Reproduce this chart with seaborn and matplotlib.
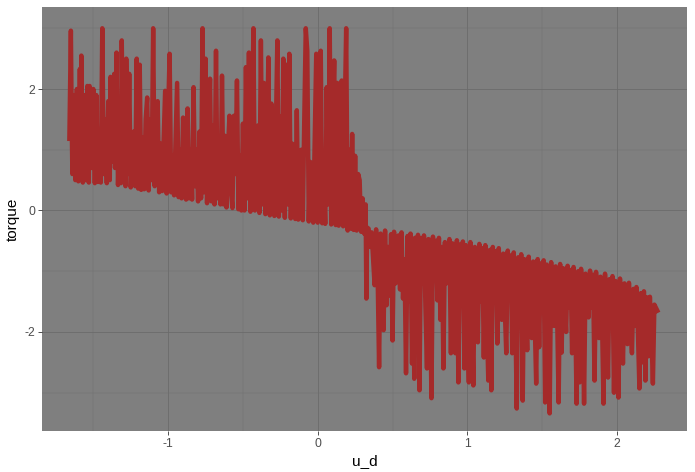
import numpy as np
import pandas as pd
import seaborn as sns
import matplotlib.pyplot as plt
from matplotlib.ticker import MultipleLocator

# u_d values (x), left part (positive torque spikes)
u_left = [-1.66, -1.65, -1.645, -1.64, -1.63, -1.62, -1.61, -1.60, -1.59, -1.585, -1.58, -1.57, -1.56, -1.55,
          -1.54, -1.53, -1.525, -1.51, -1.50, -1.49, -1.48, -1.47, -1.46, -1.45, -1.44, -1.43, -1.42, -1.41,
          -1.40, -1.39, -1.385, -1.375, -1.36, -1.355, -1.345, -1.335, -1.325, -1.315, -1.31, -1.30, -1.29,
          -1.285, -1.28, -1.27, -1.26, -1.25, -1.24, -1.23, -1.22, -1.21, -1.20, -1.19, -1.18, -1.17, -1.16,
          -1.15, -1.14, -1.13, -1.12, -1.11, -1.10, -1.09, -1.08, -1.07, -1.06, -1.05, -1.04, -1.02, -1.01,
          -1.00, -0.99, -0.98, -0.97, -0.96, -0.95, -0.94, -0.93, -0.92, -0.91, -0.90, -0.89, -0.88, -0.87,
          -0.86, -0.85, -0.84, -0.83, -0.82, -0.81, -0.80, -0.79, -0.78, -0.77, -0.76, -0.75, -0.74, -0.73,
          -0.72, -0.71, -0.70, -0.69, -0.68, -0.67, -0.66, -0.65, -0.64, -0.63, -0.62, -0.61, -0.60, -0.59,
          -0.58, -0.57, -0.56, -0.55, -0.54, -0.53, -0.52, -0.51, -0.50, -0.49, -0.48, -0.47, -0.46, -0.45,
          -0.44, -0.43, -0.42, -0.41, -0.40, -0.39, -0.38, -0.37, -0.36, -0.35, -0.34, -0.33, -0.32, -0.31,
          -0.30, -0.29, -0.28, -0.27, -0.26, -0.25, -0.24, -0.23, -0.22, -0.21, -0.20, -0.19, -0.18, -0.17,
          -0.16, -0.15, -0.14, -0.13, -0.12, -0.11, -0.10, -0.09, -0.08, -0.07, -0.06, -0.05, -0.04, -0.03,
          -0.02, -0.01, 0.00, 0.01, 0.02, 0.03, 0.04, 0.05, 0.06, 0.07, 0.08, 0.09, 0.10, 0.11, 0.12, 0.13,
          0.14, 0.15, 0.16, 0.17, 0.18, 0.19, 0.20, 0.21, 0.22, 0.23, 0.24, 0.25, 0.26, 0.27, 0.28, 0.29,
          0.30, 0.31, 0.32, 0.325, 0.33]
torque_left = [1.18, 2.96, 1.6, 0.6, 1.9, 0.5, 2.0, 0.48, 2.33, 1.2, 2.55, 0.46, 1.9, 0.5,
               2.05, 0.46, 2.05, 0.7, 2.0, 0.45, 1.9, 0.47, 1.3, 0.46, 3.0, 0.6, 1.5, 0.45,
               1.8, 0.5, 2.2, 0.8, 2.25, 0.7, 2.6, 0.42, 1.4, 0.45, 2.8, 0.5, 1.3,
               0.4, 2.5, 0.6, 2.25, 0.38, 1.0, 1.3, 0.4, 2.5, 0.36, 2.4, 0.34, 1.2, 0.35,
               1.5, 1.86, 0.33, 1.5, 0.5, 3.0, 0.4, 1.4, 1.8, 0.3, 1.1, 0.32, 1.97, 0.28,
               1.6, 2.58, 0.3, 0.9, 0.25, 1.2, 2.1, 0.22, 1.0, 0.2, 1.53, 0.7, 0.18, 1.68,
               0.2, 1.0, 0.18, 2.03, 0.4, 1.0, 0.15, 1.3, 0.2, 3.0, 0.3, 2.5, 0.12, 1.2,
               2.17, 0.15, 1.4, 0.1, 2.63, 0.2, 1.0, 0.1, 2.22, 0.1, 1.23, 0.05, 1.0, 1.56,
               0.3, 0.04, 1.56, 0.6, 2.14, 0.02, 0.9, 0.0, 1.43, 0.0, 2.36, 0.2, 2.6, -0.02,
               1.2, 3.0, 0.0, 0.8, 1.4, -0.04, 2.8, 0.1, 2.1, -0.06, 1.0, 2.52, -0.08, 1.76,
               0.2, -0.09, 1.3, 2.8, -0.1, 1.55, 0.0, 2.5, -0.12, 2.4, 0.1, 2.58, -0.13, 1.1,
               0.0, -0.14, 1.65, -0.15, 0.6, 1.0, -0.16, 1.5, 3.0, 2.63, -0.18, 0.8, 0.16, -0.2,
               1.2, 2.58, -0.2, 1.0, 2.63, -0.21, 0.5, -0.22, 2.03, 0.1, 3.0, -0.23, 1.5, 2.47, -0.24, 2.1,
               -0.25, 1.0, 2.14, -0.26, 1.5, 3.0, -0.33, 1.0, -0.3, 1.26, -0.32, 0.9, -0.33, 0.6, 0.5, -0.35,
               0.2, -0.38, 0.1, -1.45, -0.28]

# right part (negative torque spikes)
u_right = [0.34, 0.35, 0.36, 0.37, 0.38, 0.39, 0.40, 0.41, 0.42, 0.43, 0.44, 0.45, 0.46, 0.47, 0.48,
           0.49, 0.50, 0.51, 0.52, 0.53, 0.54, 0.55, 0.56, 0.57, 0.58, 0.59, 0.60, 0.61, 0.62, 0.63,
           0.64, 0.645, 0.65, 0.66, 0.67, 0.68, 0.69, 0.70, 0.71, 0.72, 0.73, 0.74, 0.75, 0.76, 0.77,
           0.78, 0.79, 0.80, 0.81, 0.82, 0.83, 0.84, 0.85, 0.86, 0.87, 0.88, 0.89, 0.90, 0.91, 0.92,
           0.93, 0.94, 0.95, 0.96, 0.97, 0.98, 0.99, 1.00, 1.01, 1.02, 1.03, 1.04, 1.05, 1.06, 1.07,
           1.08, 1.09, 1.10, 1.11, 1.12, 1.13, 1.14, 1.15, 1.16, 1.17, 1.18, 1.19, 1.20, 1.21, 1.22,
           1.23, 1.24, 1.25, 1.26, 1.27, 1.28, 1.29, 1.30, 1.31, 1.32, 1.33, 1.34, 1.35, 1.36, 1.37,
           1.38, 1.39, 1.40, 1.41, 1.42, 1.43, 1.44, 1.45, 1.46, 1.47, 1.48, 1.49, 1.50, 1.51, 1.52,
           1.53, 1.54, 1.55, 1.56, 1.57, 1.58, 1.59, 1.60, 1.61, 1.62, 1.63, 1.64, 1.65, 1.66, 1.67,
           1.68, 1.69, 1.70, 1.71, 1.72, 1.73, 1.74, 1.75, 1.76, 1.77, 1.78, 1.79, 1.80, 1.81, 1.82,
           1.83, 1.84, 1.85, 1.86, 1.87, 1.88, 1.89, 1.90, 1.91, 1.92, 1.93, 1.94, 1.95, 1.96, 1.97,
           1.98, 1.99, 2.00, 2.01, 2.02, 2.03, 2.04, 2.05, 2.06, 2.07, 2.08, 2.09, 2.10, 2.11, 2.12,
           2.13, 2.14, 2.15, 2.16, 2.17, 2.18, 2.19, 2.20, 2.21, 2.22, 2.23, 2.24, 2.25, 2.26, 2.27]
torque_right = [-0.3, -0.6, -0.36, -0.8, -1.23, -0.31, -1.0, -2.58, -0.38, -1.2, -1.97, -0.33, -1.56, -0.6, -1.4,
                -0.39, -2.14, -0.35, -1.2, -1.0, -0.41, -1.3, -0.36, -1.45, -0.8, -2.68, -0.42, -1.5, -0.38, -2.52,
                -1.0, -2.77, -0.45, -1.4, -0.4, -2.96, -0.46, -1.2, -0.41, -1.6, -2.6, -0.47, -1.3, -3.09, -0.43,
                -1.0, -0.5, -1.48, -0.45, -1.8, -0.6, -2.6, -0.52, -1.2, -1.0, -0.47, -2.35, -0.54, -1.5, -2.35,
                -0.49, -2.83, -0.56, -1.4, -0.51, -2.6, -0.57, -1.8, -2.83, -0.52, -1.6, -2.88, -0.6, -1.3, -2.17,
                -0.55, -1.5, -0.62, -2.42, -0.57, -1.8, -2.8, -0.65, -2.96, -0.6, -1.5, -0.67, -2.19, -0.62, -1.3,
                -1.8, -0.71, -1.6, -2.35, -0.66, -1.4, -0.74, -2.35, -0.69, -1.6, -3.26, -0.77, -1.5, -0.72, -3.13,
                -0.8, -1.6, -2.3, -0.76, -1.4, -2.1, -0.84, -1.8, -2.85, -0.8, -2.25, -0.87, -1.6, -0.82, -3.16,
                -0.89, -1.4, -3.34, -0.85, -1.5, -1.9, -0.92, -1.7, -3.16, -0.88, -2.34, -0.95, -1.5, -2.0, -0.91,
                -1.6, -0.98, -2.35, -0.93, -1.5, -3.18, -1.0, -2.83, -0.96, -1.6, -3.18, -1.04, -1.5, -1.76, -0.99,
                -1.6, -1.06, -2.8, -1.01, -1.5, -2.1, -1.09, -1.8, -3.18, -1.04, -1.6, -2.75, -1.13, -1.7, -1.08,
                -3.0, -1.16, -1.8, -3.08, -1.12, -1.6, -2.52, -1.2, -1.7, -2.2, -1.19, -1.8, -2.35, -1.29, -1.9,
                -1.26, -2.0, -2.93, -1.36, -2.5, -1.33, -2.8, -1.43, -2.4, -1.42, -2.0, -2.85, -1.55, -1.6, -1.65]

df = pd.DataFrame({"u_d": u_left + u_right, "torque": torque_left + torque_right})

plt.rcParams['font.family'] = ['Liberation Sans', 'DejaVu Sans']

fig, ax = plt.subplots(figsize=(6.95, 4.72), dpi=100)
fig.subplots_adjust(left=42/695, right=687/695, top=1-7/472, bottom=1-431/472)

sns.lineplot(data=df, x="u_d", y="torque", estimator=None, sort=False,
             color="#A52A2A", linewidth=3.2, ax=ax)

ax.set_facecolor("#7F7F7F")
ax.set_xlim(-1.843, 2.468)
ax.set_ylim(-3.63, 3.35)
ax.xaxis.set_major_locator(MultipleLocator(1))
ax.xaxis.set_minor_locator(MultipleLocator(0.5))
ax.yaxis.set_major_locator(MultipleLocator(2))
ax.yaxis.set_minor_locator(MultipleLocator(1))
ax.grid(which="major", color="#6B6B6B", linewidth=0.6)
ax.grid(which="minor", color="#727272", linewidth=0.35)
ax.set_axisbelow(True)
for s in ax.spines.values():
    s.set_visible(False)
ax.tick_params(which="major", length=3, width=0.6, color="#333333", labelcolor="#4D4D4D",
               labelsize=8.8, pad=2)
ax.tick_params(which="minor", length=0)
ax.set_xticklabels([f"{t:g}" for t in ax.get_xticks()])
ax.set_yticklabels([f"{t:g}" for t in ax.get_yticks()])
ax.set_xlabel("u_d", fontsize=11, color="black", labelpad=3)
ax.set_ylabel("torque", fontsize=11, color="black", labelpad=3)

fig.savefig("out.png", dpi=100)
